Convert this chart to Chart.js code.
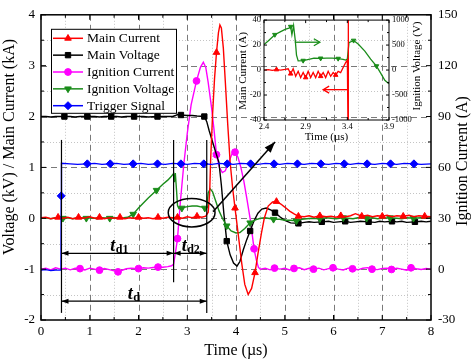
<!DOCTYPE html>
<html>
<head>
<meta charset="utf-8">
<script src="https://cdn.jsdelivr.net/npm/chart.js@4.4.1/dist/chart.umd.min.js"></script>
<style>
html, body { margin: 0; padding: 0; background: #fff; }
#wrap { position: relative; width: 474px; height: 360px; }
#mainChart { position: absolute; left: 0; top: 0; }
#insetChart { position: absolute; left: 236px; top: 12px; }
</style>
</head>
<body>
<div id="wrap">
  <canvas id="mainChart" width="474" height="360"></canvas>
  <canvas id="insetChart" width="196" height="132"></canvas>
</div>
<script>
// ---- values (time in µs) ----

// Main Current, kA (left axis)
const mainCurrentT = [0, 0.1, 0.2, 0.35, 0.45, 0.55, 0.65, 0.77, 0.88, 1.0,
  1.1, 1.2, 1.3, 1.4, 1.5, 1.62, 1.72, 1.82, 1.9, 2.0,
  2.1, 2.2, 2.3, 2.4, 2.5, 2.6, 2.7, 2.8, 2.9, 3.0,
  3.1, 3.2, 3.3, 3.38, 3.43, 3.46, 3.48, 3.52, 3.56, 3.60,
  3.64, 3.67, 3.70, 3.74, 3.78, 3.83, 3.88, 3.93, 3.98, 4.05,
  4.12, 4.18, 4.25, 4.32, 4.39, 4.45, 4.52, 4.58, 4.66, 4.75,
  4.83, 4.92, 5.0, 5.1, 5.2, 5.28, 5.4, 5.5, 5.6, 5.72,
  5.85, 5.95, 6.05, 6.15, 6.25, 6.35, 6.45, 6.58, 6.7, 6.8,
  6.9, 7.0, 7.1, 7.2, 7.3, 7.43, 7.55, 7.65, 7.75, 7.87, 8.0];
const mainCurrentV = [0.01, 0.02, -0.01, 0.02, 0.0, 0.02, -0.01, 0.02, 0.0, 0.03,
  0.0, 0.02, -0.01, 0.01, 0.0, 0.02, -0.01, 0.01, 0.0, 0.02,
  0.0, 0.01, -0.01, 0.02, 0.0, 0.02, 0.01, 0.02, 0.0, 0.03,
  0.01, 0.04, 0.02, 0.04, 0.12, 0.5, 1.15, 2.05, 2.75, 3.26,
  3.65, 3.8, 3.74, 3.35, 2.7, 1.85, 1.1, 0.6, 0.2, -0.35,
  -0.9, -1.3, -1.5, -1.38, -1.07, -0.7, -0.3, 0.0, 0.24, 0.32,
  0.33, 0.28, 0.22, 0.14, 0.08, 0.04, 0.03, 0.05, 0.02, 0.05,
  0.03, 0.04, 0.02, 0.05, 0.03, 0.05, 0.09, 0.04, 0.06, 0.03,
  0.05, 0.04, 0.06, 0.03, 0.05, 0.04, 0.06, 0.03, 0.05, 0.04, 0.03];
const mainCurrentMarks = [0.35, 0.77, 1.2, 1.62, 2.0, 2.4, 2.8, 3.2, 3.60, 3.98,
  4.39, 4.83, 5.28, 5.72, 6.15, 6.58, 7.0, 7.43, 7.87];

// Main Voltage, kV (left axis)
const mainVoltageT = [0, 0.1, 0.2, 0.3, 0.48, 0.6, 0.7, 0.8, 0.95, 1.1,
  1.2, 1.3, 1.44, 1.55, 1.65, 1.75, 1.91, 2.0, 2.1, 2.2,
  2.39, 2.5, 2.6, 2.7, 2.76, 2.8, 2.87, 3.0, 3.1, 3.2,
  3.35, 3.40, 3.45, 3.52, 3.60, 3.65, 3.70, 3.75, 3.81, 3.88,
  3.95, 4.02, 4.08, 4.15, 4.22, 4.29, 4.37, 4.45, 4.53, 4.62,
  4.72, 4.80, 4.90, 5.0, 5.12, 5.28, 5.4, 5.5, 5.6, 5.76,
  5.9, 6.0, 6.1, 6.24, 6.35, 6.45, 6.55, 6.72, 6.85, 6.95,
  7.05, 7.2, 7.3, 7.4, 7.5, 7.67, 7.8, 7.9, 8.0];
const mainVoltageV = [2.0, 2.0, 1.99, 2.0, 2.0, 2.0, 1.99, 2.0, 2.0, 2.0,
  1.99, 2.0, 2.0, 2.0, 1.99, 2.0, 2.0, 2.0, 2.0, 1.99,
  2.0, 2.0, 2.0, 2.0, 2.02, 2.04, 2.03, 2.02, 2.02, 2.01,
  2.0, 1.9, 1.72, 1.5, 1.25, 1.1, 0.65, 0.1, -0.45, -0.72,
  -0.88, -0.94, -0.85, -0.62, -0.42, -0.25, -0.05, 0.1, 0.18, 0.2,
  0.16, 0.11, 0.03, -0.04, -0.09, -0.1, -0.08, -0.07, -0.08, -0.07,
  -0.06, -0.08, -0.07, -0.06, -0.08, -0.07, -0.06, -0.07, -0.08, -0.06,
  -0.07, -0.06, -0.07, -0.06, -0.08, -0.07, -0.06, -0.07, -0.06];
const mainVoltageMarks = [0.48, 0.95, 1.44, 1.91, 2.39, 2.87, 3.35, 3.81, 4.29, 4.80,
  5.28, 5.76, 6.24, 6.72, 7.2, 7.67];

// Ignition Current, A (right axis)
const ignCurrentT = [0, 0.1, 0.2, 0.3, 0.4, 0.5, 0.6, 0.7, 0.8, 0.9,
  1.0, 1.1, 1.2, 1.3, 1.4, 1.5, 1.58, 1.65, 1.75, 1.85,
  2.0, 2.1, 2.2, 2.3, 2.4, 2.5, 2.6, 2.68, 2.72, 2.76,
  2.8, 2.86, 2.93, 3.0, 3.08, 3.19, 3.27, 3.33, 3.38, 3.43,
  3.5, 3.55, 3.6, 3.66, 3.72, 3.78, 3.85, 3.92, 3.98, 4.04,
  4.1, 4.16, 4.22, 4.3, 4.37, 4.42, 4.46, 4.5, 4.6, 4.7,
  4.79, 4.9, 5.0, 5.1, 5.19, 5.3, 5.4, 5.5, 5.59, 5.7,
  5.8, 5.9, 5.99, 6.1, 6.2, 6.3, 6.39, 6.5, 6.6, 6.7,
  6.79, 6.9, 7.0, 7.1, 7.19, 7.3, 7.4, 7.5, 7.59, 7.7,
  7.8, 7.9, 8.0];
const ignCurrentV = [0, 0.5, -0.5, 0.8, 0, 0.6, -0.4, 0.5, 0.3, -0.5,
  0.6, 0, -0.6, 0.4, -0.3, -1.0, -1.6, -0.8, 0.2, 0.5,
  0.3, 0.8, 0.6, 1.0, 1.2, 1.1, 1.5, 2.0, 3.0, 10,
  18, 40, 62, 80, 97, 111, 119, 122, 119, 110,
  95, 82, 67.5, 60, 57, 58, 63, 68, 69, 66,
  60, 52, 42, 28, 12, 5, 1, 0, 0.5, -0.4,
  0.6, 0, 0.5, -0.5, 0.4, 0.8, -0.3, 0.5, 0, 0.6,
  -0.4, 0.3, 0.8, 0, -0.5, 0.6, 0.2, -0.4, 0.5, 0.9,
  0, -0.3, 0.4, 0.6, -0.2, 0.5, 0, -0.6, 0.8, 0.2,
  -0.2, 0.4, 0];
const ignCurrentMarks = [0.8, 1.2, 1.58, 2.0, 2.4, 2.8, 3.19, 3.6, 3.98, 4.37,
  4.79, 5.19, 5.59, 5.99, 6.39, 6.79, 7.19, 7.59];

// Ignition Voltage, kV (left axis)
const ignVoltageT = [0, 0.1, 0.2, 0.3, 0.45, 0.55, 0.65, 0.8, 0.93, 1.05,
  1.15, 1.25, 1.41, 1.5, 1.6, 1.7, 1.78, 1.89, 2.0, 2.1,
  2.2, 2.37, 2.5, 2.6, 2.68, 2.72, 2.735, 2.755, 2.78, 2.80,
  2.83, 2.89, 3.0, 3.1, 3.2, 3.3, 3.36, 3.40, 3.43, 3.47,
  3.52, 3.58, 3.65, 3.72, 3.81, 3.9, 4.0, 4.08, 4.18, 4.29,
  4.4, 4.5, 4.6, 4.77, 4.9, 5.0, 5.1, 5.24, 5.35, 5.45,
  5.55, 5.72, 5.85, 5.95, 6.05, 6.2, 6.3, 6.4, 6.5, 6.68,
  6.8, 6.9, 7.0, 7.16, 7.3, 7.4, 7.5, 7.64, 7.8, 7.9, 8.0];
const ignVoltageV = [0, 0.01, -0.01, 0.01, 0, 0.01, -0.01, 0.01, 0, 0.01,
  -0.01, 0.01, 0, 0.01, 0, 0.01, 0.02, 0.08, 0.2, 0.3,
  0.4, 0.55, 0.67, 0.75, 0.83, 0.88, 0.71, 0.89, 0.55, 0.25,
  0.19, 0.2, 0.23, 0.24, 0.24, 0.22, 0.2, 0.21, 0.5, 0.58,
  0.52, 0.35, 0.15, 0.0, -0.15, -0.25, -0.29, -0.28, -0.2, -0.09,
  -0.03, 0.0, 0.01, -0.02, -0.02, -0.04, -0.04, -0.05, -0.02, -0.01,
  0, -0.01, 0.01, 0, -0.01, 0.01, 0, -0.01, 0.01, 0,
  0.01, -0.01, 0, 0.01, 0, -0.01, 0.01, 0, 0.01, 0, 0.01];
const ignVoltageMarks = [0.45, 0.93, 1.41, 1.89, 2.37, 2.89, 3.36, 3.81, 4.29, 4.77,
  5.24, 5.72, 6.2, 6.68, 7.16, 7.64];

// Trigger Signal, plotted on the left axis
const triggerT = [0, 0.1, 0.2, 0.3, 0.41, 0.415, 0.42, 0.6, 0.75, 0.95,
  1.1, 1.25, 1.42, 1.55, 1.7, 1.89, 2.05, 2.2, 2.39, 2.55,
  2.7, 2.87, 3.0, 3.15, 3.34, 3.5, 3.65, 3.82, 3.95, 4.1,
  4.3, 4.45, 4.6, 4.78, 4.9, 5.05, 5.26, 5.4, 5.55, 5.74,
  5.9, 6.05, 6.22, 6.35, 6.5, 6.69, 6.85, 7.0, 7.17, 7.3,
  7.45, 7.65, 7.8, 8.0];
const triggerV = [-1.02, -1.01, -1.03, -1.02, -1.02, 0.44, 1.08, 1.07, 1.06, 1.07,
  1.08, 1.06, 1.07, 1.08, 1.06, 1.07, 1.08, 1.06, 1.07, 1.06,
  1.08, 1.07, 1.06, 1.08, 1.07, 1.06, 1.08, 1.07, 1.06, 1.08,
  1.07, 1.06, 1.08, 1.07, 1.06, 1.08, 1.07, 1.06, 1.08, 1.07,
  1.06, 1.08, 1.07, 1.06, 1.08, 1.07, 1.06, 1.08, 1.07, 1.06,
  1.08, 1.07, 1.06, 1.07];
const triggerMarks = [0.415, 0.95, 1.42, 1.89, 2.39, 2.87, 3.34, 3.82, 4.3, 4.78,
  5.26, 5.74, 6.22, 6.69, 7.17, 7.65];

// inset: Main Current (A) and Ignition Voltage (V)
const insetCurrentT = [2.4, 2.45, 2.5, 2.55, 2.6, 2.65, 2.69, 2.72, 2.75, 2.78,
  2.81, 2.84, 2.87, 2.9, 2.93, 2.96, 2.99, 3.02, 3.05, 3.08,
  3.11, 3.14, 3.17, 3.2, 3.23, 3.26, 3.29, 3.32, 3.35, 3.38,
  3.40, 3.41, 3.412];
const insetCurrentV = [0, 0.3, -0.3, 0.4, 0, 0.5, 1, -3, 1, -5,
  -1, -6, -2, -6, -1, -6, -2, -6, -1, -5,
  -2, -6, -1, -5, -2, -4, -1, -2, 2, 6,
  8, -60, 60];
const insetCurrentMarks = [2.55, 2.72, 2.9, 3.08, 3.26];

const insetVoltageT = [2.4, 2.45, 2.53, 2.6, 2.66, 2.70, 2.72, 2.735, 2.755, 2.775,
  2.79, 2.81, 2.87, 2.95, 3.0, 3.08, 3.15, 3.22, 3.29, 3.35,
  3.38, 3.40, 3.42, 3.475, 3.53, 3.61, 3.68, 3.75, 3.8, 3.85, 3.9];
const insetVoltageV = [512, 580, 708, 770, 820, 840, 870, 710, 890, 600,
  300, 183, 190, 220, 237, 235, 240, 240, 230, 215,
  200, 220, 550, 592, 520, 380, 220, 80, -60, -205, -275];
const insetVoltageMarks = [2.53, 2.72, 2.87, 3.08, 3.29, 3.475, 3.75];

// tick labels
const xTicks = [0, 1, 2, 3, 4, 5, 6, 7, 8];
const yTicks = [-2, -1, 0, 1, 2, 3, 4];
const y2Ticks = [-30, 0, 30, 60, 90, 120, 150];
const insetXTicks = [2.4, 2.9, 3.4, 3.9];
const insetYTicks = [-40, -20, 0, 20, 40];
const insetY2Ticks = [-1000, -500, 0, 500, 1000];

// ---- drawing ----
const SERIF = '"Liberation Serif", "Times New Roman", serif';

function toPoints(ts, vs) {
  return ts.map((t, i) => ({x: t, y: vs[i]}));
}

function series(label, ts, vs, marks, color, style, rot, r, axis, order) {
  return {
    label: label,
    data: toPoints(ts, vs),
    yAxisID: axis,
    order: order,
    borderColor: color,
    backgroundColor: color,
    borderWidth: 1.4,
    tension: 0,
    pointStyle: style,
    pointRotation: rot,
    pointBorderWidth: 1,
    pointRadius: ctx => (ctx.raw && marks.includes(ctx.raw.x)) ? r : 0,
    pointHoverRadius: 0,
    legendR: r
  };
}

function fixedTicks(list) {
  return s => { s.ticks = list.map(v => ({value: v})); };
}

function vTitle(ctx, text, x, y, font) {
  ctx.save();
  ctx.translate(x, y);
  ctx.rotate(-Math.PI / 2);
  ctx.font = font;
  ctx.fillStyle = '#000';
  ctx.textAlign = 'center';
  ctx.textBaseline = 'middle';
  ctx.fillText(text, 0, 0);
  ctx.restore();
}

function seg(ctx, x1, y1, x2, y2) {
  ctx.beginPath();
  ctx.moveTo(x1, y1);
  ctx.lineTo(x2, y2);
  ctx.stroke();
}

function arrowHead(ctx, x, y, ang, len, half, open) {
  const bx = x - len * Math.cos(ang), by = y - len * Math.sin(ang);
  ctx.beginPath();
  ctx.moveTo(bx - half * Math.sin(ang), by + half * Math.cos(ang));
  ctx.lineTo(x, y);
  ctx.lineTo(bx + half * Math.sin(ang), by - half * Math.cos(ang));
  if (open) { ctx.stroke(); } else { ctx.closePath(); ctx.fill(); }
}

// box round the plot with inward major/minor ticks
function frameTicks(chart, majorLen, minorLen, lw) {
  const {ctx, chartArea: a} = chart;
  ctx.save();
  ctx.strokeStyle = '#000';
  ctx.lineWidth = 1;
  Object.values(chart.scales).forEach(s => {
    const vals = s.ticks.map(t => t.value);
    const mids = vals.slice(1).map((v, i) => (v + vals[i]) / 2);
    [[vals, majorLen], [mids, minorLen]].forEach(([list, len]) => list.forEach(v => {
      const p = s.getPixelForValue(v);
      if (s.isHorizontal()) {
        seg(ctx, p, a.bottom, p, a.bottom - len);
        seg(ctx, p, a.top, p, a.top + len);
      } else if (s.position === 'left') {
        seg(ctx, a.left, p, a.left + len, p);
      } else {
        seg(ctx, a.right, p, a.right - len, p);
      }
    }));
  });
  ctx.lineWidth = lw;
  ctx.strokeRect(a.left, a.top, a.right - a.left, a.bottom - a.top);
  ctx.restore();
}

const gridPlugin = {
  id: 'originGrid',
  beforeDatasetsDraw(chart) {
    const {ctx, chartArea: a, scales} = chart;
    ctx.save();
    ctx.lineWidth = 1;
    [scales.x, scales.y].forEach(s => {
      const vals = s.ticks.map(t => t.value);
      const mids = vals.slice(1).map((v, i) => (v + vals[i]) / 2);
      const draw = v => {
        const p = Math.round(s.getPixelForValue(v)) + 0.5;
        if (s.isHorizontal()) seg(ctx, p, a.top, p, a.bottom);
        else seg(ctx, a.left, p, a.right, p);
      };
      ctx.strokeStyle = '#c4c4c4';
      ctx.setLineDash([1, 2]);
      mids.forEach(draw);
      ctx.strokeStyle = '#7a7a7a';
      ctx.setLineDash([6, 4]);
      vals.slice(1, -1).forEach(draw);
    });
    ctx.restore();
  }
};

// td markers, ellipse and pointer arrow (in data units)
const markLines = [[0.42, 1.54, -1.86], [2.72, 1.54, -1.26], [3.40, 1.54, -1.86]];
const spans = [
  {from: 0.42, to: 2.72, v: -0.69, sub: 'd1', tx: 1.42, tv: -0.64},
  {from: 2.72, to: 3.40, v: -0.69, sub: 'd2', tx: 2.885, tv: -0.64},
  {from: 0.42, to: 3.40, v: -1.63, sub: 'd', tx: 1.78, tv: -1.58}
];
const ellipseSpec = {t: 3.09, v: 0.11, rt: 0.48, rv: 0.28};
const pointer = {t1: 3.53, v1: 0.13, t2: 4.8, v2: 1.5};

const annotatePlugin = {
  id: 'annotate',
  afterDatasetsDraw(chart) {
    const {ctx, scales} = chart;
    const px = t => scales.x.getPixelForValue(t);
    const py = v => scales.y.getPixelForValue(v);
    ctx.save();
    ctx.strokeStyle = '#000';
    ctx.fillStyle = '#000';
    ctx.lineWidth = 1.2;
    markLines.forEach(([t, a, b]) => seg(ctx, px(t), py(a), px(t), py(b)));
    spans.forEach(sp => {
      const x1 = px(sp.from), x2 = px(sp.to), y = py(sp.v);
      seg(ctx, x1, y, x2, y);
      arrowHead(ctx, x1, y, Math.PI, 7, 2.5, false);
      arrowHead(ctx, x2, y, 0, 7, 2.5, false);
      const tx = px(sp.tx), ty = py(sp.tv);
      ctx.font = 'italic bold 18px ' + SERIF;
      ctx.textBaseline = 'alphabetic';
      ctx.textAlign = 'left';
      ctx.fillText('t', tx, ty);
      const w = ctx.measureText('t').width;
      ctx.font = 'bold 12px ' + SERIF;
      ctx.fillText(sp.sub, tx + w + 0.5, ty + 2);
    });
    ctx.lineWidth = 1.5;
    const e = ellipseSpec;
    ctx.beginPath();
    ctx.ellipse(px(e.t), py(e.v), px(e.t + e.rt) - px(e.t), py(e.v) - py(e.v + e.rv), 0, 0, Math.PI * 2);
    ctx.stroke();
    const x1 = px(pointer.t1), y1 = py(pointer.v1), x2 = px(pointer.t2), y2 = py(pointer.v2);
    seg(ctx, x1, y1, x2, y2);
    arrowHead(ctx, x2, y2, Math.atan2(y2 - y1, x2 - x1), 11, 4, false);
    ctx.restore();
  },
  afterDraw(chart) {
    frameTicks(chart, 5, 3, 1.5);
    const {ctx, chartArea: a} = chart;
    vTitle(ctx, 'Voltage (kV) / Main Current (kA)', 10, 147, '16px ' + SERIF);
    vTitle(ctx, 'Ignition Current (A)', 463, 161, '16px ' + SERIF);
    // legend box
    const x0 = a.left + 10, y0 = a.top + 14, w = 125, h = 84, rowH = 16.85;
    ctx.save();
    ctx.fillStyle = '#fff';
    ctx.fillRect(x0, y0, w, h);
    ctx.strokeStyle = '#000';
    ctx.lineWidth = 1;
    ctx.strokeRect(x0 + 0.5, y0 + 0.5, w, h);
    chart.data.datasets.forEach((ds, i) => {
      const cy = y0 + 9.5 + i * rowH;
      ctx.strokeStyle = ds.borderColor;
      ctx.lineWidth = 1.5;
      seg(ctx, x0 + 2, cy, x0 + 32, cy);
      ctx.fillStyle = ds.backgroundColor;
      if (Chart.helpers && Chart.helpers.drawPoint) {
        ctx.lineWidth = 1;
        Chart.helpers.drawPoint(ctx, {pointStyle: ds.pointStyle, rotation: ds.pointRotation || 0,
          radius: ds.legendR, borderWidth: 1}, x0 + 17, cy);
      }
      ctx.fillStyle = '#000';
      ctx.font = '13.5px ' + SERIF;
      ctx.textAlign = 'left';
      ctx.textBaseline = 'middle';
      ctx.fillText(ds.label, x0 + 36, cy + 0.5);
    });
    ctx.restore();
  }
};

const tickFont = size => ({family: SERIF, size: size});

new Chart(document.getElementById('mainChart'), {
  type: 'line',
  data: {
    datasets: [
      series('Main Current', mainCurrentT, mainCurrentV, mainCurrentMarks, '#ff0000', 'triangle', 0, 3.8, 'y', 2),
      series('Main Voltage', mainVoltageT, mainVoltageV, mainVoltageMarks, '#000000', 'rect', 0, 3.8, 'y', 4),
      series('Ignition Current', ignCurrentT, ignCurrentV, ignCurrentMarks, '#ff00ff', 'circle', 0, 3.4, 'y2', 5),
      series('Ignition Voltage', ignVoltageT, ignVoltageV, ignVoltageMarks, '#1a8c1a', 'triangle', 180, 3.8, 'y', 3),
      series('Trigger Signal', triggerT, triggerV, triggerMarks, '#0000ff', 'rectRot', 0, 4, 'y', 1)
    ]
  },
  options: {
    responsive: false,
    animation: false,
    events: [],
    layout: {padding: {top: 5}},
    plugins: {legend: {display: false}, tooltip: {enabled: false}},
    scales: {
      x: {
        type: 'linear', min: 0, max: 8,
        afterBuildTicks: fixedTicks(xTicks),
        ticks: {color: '#000', font: tickFont(13), padding: 4, maxRotation: 0, callback: v => String(v)},
        grid: {display: false, drawTicks: false},
        border: {display: false},
        title: {display: true, text: 'Time (µs)', color: '#000', font: {family: SERIF, size: 16}, padding: {top: 0, bottom: 0}},
        afterFit: s => { s.height = 40; }
      },
      y: {
        position: 'left', min: -2, max: 4,
        afterBuildTicks: fixedTicks(yTicks),
        ticks: {color: '#000', font: tickFont(13), padding: 6, callback: v => String(v)},
        grid: {display: false, drawTicks: false},
        border: {display: false},
        afterFit: s => { s.width = 41; }
      },
      y2: {
        position: 'right', min: -30, max: 150,
        afterBuildTicks: fixedTicks(y2Ticks),
        ticks: {color: '#000', font: tickFont(13), padding: 7, callback: v => String(v)},
        grid: {display: false, drawTicks: false},
        border: {display: false},
        afterFit: s => { s.width = 43; }
      }
    }
  },
  plugins: [gridPlugin, annotatePlugin]
});

// inset
const insetArrows = [
  {axis: 'y2', from: 2.77, to: 3.07, v: 557, color: '#1a8c1a'},
  {axis: 'y', from: 3.40, to: 3.11, v: -15.7, color: '#ff0000'}
];

const insetPlugin = {
  id: 'insetDeco',
  afterDatasetsDraw(chart) {
    const {ctx, scales} = chart;
    ctx.save();
    ctx.lineWidth = 1.3;
    insetArrows.forEach(ar => {
      const x1 = scales.x.getPixelForValue(ar.from), x2 = scales.x.getPixelForValue(ar.to);
      const y = scales[ar.axis].getPixelForValue(ar.v);
      ctx.strokeStyle = ar.color;
      seg(ctx, x1, y, x2, y);
      arrowHead(ctx, x2, y, x2 > x1 ? 0 : Math.PI, 6, 3.5, true);
    });
    ctx.restore();
  },
  afterDraw(chart) {
    frameTicks(chart, 3, 2, 1);
    vTitle(chart.ctx, 'Main Current (A)', 7, 59, '11px ' + SERIF);
    vTitle(chart.ctx, 'Ignition Voltage (V)', 181, 54, '11px ' + SERIF);
  }
};

const insetSeries = (label, ts, vs, marks, color, style, rot, axis) => {
  const ds = series(label, ts, vs, marks, color, style, rot, 2.6, axis, 1);
  ds.borderWidth = 1.3;
  return ds;
};

new Chart(document.getElementById('insetChart'), {
  type: 'line',
  data: {
    datasets: [
      insetSeries('Main Current', insetCurrentT, insetCurrentV, insetCurrentMarks, '#ff0000', 'triangle', 0, 'y'),
      insetSeries('Ignition Voltage', insetVoltageT, insetVoltageV, insetVoltageMarks, '#1a8c1a', 'triangle', 180, 'y2')
    ]
  },
  options: {
    responsive: false,
    animation: false,
    events: [],
    layout: {padding: {top: 6.5}},
    plugins: {legend: {display: false}, tooltip: {enabled: false}},
    scales: {
      x: {
        type: 'linear', min: 2.4, max: 3.9,
        afterBuildTicks: fixedTicks(insetXTicks),
        ticks: {color: '#000', font: tickFont(8.5), padding: 2, maxRotation: 0, callback: v => String(v)},
        grid: {display: false, drawTicks: false},
        border: {display: false},
        title: {display: true, text: 'Time (µs)', color: '#000', font: {family: SERIF, size: 11}, padding: {top: 0, bottom: 0}},
        afterFit: s => { s.height = 24; }
      },
      y: {
        position: 'left', min: -40, max: 40,
        afterBuildTicks: fixedTicks(insetYTicks),
        ticks: {color: '#000', font: tickFont(8.5), padding: 3, callback: v => String(v)},
        grid: {display: false, drawTicks: false},
        border: {display: false},
        afterFit: s => { s.width = 28; }
      },
      y2: {
        position: 'right', min: -1000, max: 1000,
        afterBuildTicks: fixedTicks(insetY2Ticks),
        ticks: {color: '#000', font: tickFont(8.5), padding: 3, callback: v => String(v)},
        grid: {display: false, drawTicks: false},
        border: {display: false},
        afterFit: s => { s.width = 43; }
      }
    }
  },
  plugins: [insetPlugin]
});
</script>
</body>
</html>
